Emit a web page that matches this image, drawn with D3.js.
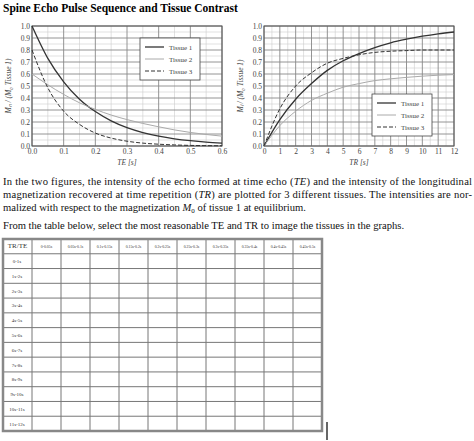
<!DOCTYPE html>
<html><head><meta charset="utf-8">
<script src="https://cdn.jsdelivr.net/npm/d3@7"></script>
<style>body{margin:0;background:#fff}svg{font-family:"Liberation Serif",serif}</style>
</head><body><svg id="c" width="474" height="441"></svg>
<script>
const teValues = [0,0.05,0.1,0.15,0.2,0.25,0.3,0.35,0.4,0.45,0.5,0.55,0.6];
const teTissue1 = [1.0,0.73,0.535,0.39,0.287,0.21,0.153,0.112,0.082,0.06,0.044,0.032,0.024];
const teTissue2 = [0.6,0.51,0.43,0.36,0.305,0.258,0.22,0.188,0.16,0.134,0.113,0.096,0.082];
const teTissue3 = [0.8,0.485,0.29,0.18,0.108,0.066,0.04,0.024,0.015,0.009,0.005,0.003,0.002];
const trValues = [0,1,2,3,4,5,6,7,8,9,10,11,12];
const trTissue1 = [0,0.22,0.39,0.52,0.63,0.71,0.77,0.82,0.86,0.89,0.915,0.935,0.95];
const trTissue2 = [0,0.17,0.29,0.38,0.44,0.49,0.52,0.545,0.56,0.572,0.582,0.59,0.595];
const trTissue3 = [0,0.31,0.5,0.61,0.69,0.73,0.76,0.78,0.79,0.795,0.8,0.8,0.8];
const yTicks = [0,0.1,0.2,0.3,0.4,0.5,0.6,0.7,0.8,0.9,1.0];
const teTicks = [0,0.1,0.2,0.3,0.4,0.5,0.6];
const teGrid = [0.05,0.15,0.25,0.35,0.45,0.55];
const trTicks = [0,1,2,3,4,5,6,7,8,9,10,11,12];
const trGrid = [0.5,1.5,2.5,3.5,4.5,5.5,6.5,7.5,8.5,9.5,10.5,11.5];
const yGrid = [0.05,0.15,0.25,0.35,0.45,0.55,0.65,0.75,0.85,0.95];
const seriesNames = ["Tissue 1","Tissue 2","Tissue 3"];
const teCols = ["0-0.05s","0.05s-0.1s","0.1s-0.15s","0.15s-0.2s","0.2s-0.25s","0.25s-0.3s","0.3s-0.35s","0.35s-0.4s","0.4s-0.45s","0.45s-0.5s"];
const trRows = ["0-1s","1s-2s","2s-3s","3s-4s","4s-5s","5s-6s","6s-7s","7s-8s","8s-9s","9s-10s","10s-11s","11s-12s"];

const svg = d3.select("#c");
const styles = [{c:"#333",w:1.3,d:null},{c:"#aaa",w:1,d:null},{c:"#333",w:1,d:"4,2"}];

svg.append("text").attr("x",3).attr("y",12).attr("font-size",11.5).attr("font-weight","bold").text("Spine Echo Pulse Sequence and Tissue Contrast");

function plot(x0,x1,xDom,xs,ys,ticks,grid,fmt,xlab,ylab,leg){
  const x = d3.scaleLinear().domain(xDom).range([x0,x1]);
  const y = d3.scaleLinear().domain([0,1]).range([146,26]);
  const g = svg.append("g");
  g.selectAll(".gm").data(grid).join("line").attr("x1",d=>x(d)).attr("x2",d=>x(d)).attr("y1",26).attr("y2",146).attr("stroke","#ccc").attr("stroke-width",0.6);
  g.selectAll(".hm").data(yGrid).join("line").attr("x1",x0).attr("x2",x1).attr("y1",d=>y(d)).attr("y2",d=>y(d)).attr("stroke","#ccc").attr("stroke-width",0.6);
  g.selectAll(".gM").data(ticks).join("line").attr("x1",d=>x(d)).attr("x2",d=>x(d)).attr("y1",26).attr("y2",146).attr("stroke","#888").attr("stroke-width",0.9);
  g.selectAll(".hM").data(yTicks).join("line").attr("x1",x0).attr("x2",x1).attr("y1",d=>y(d)).attr("y2",d=>y(d)).attr("stroke","#888").attr("stroke-width",0.9);
  g.append("rect").attr("x",x0).attr("y",26).attr("width",x1-x0).attr("height",120).attr("fill","none").attr("stroke","#555");
  g.append("g").attr("transform","translate(0,146)").call(d3.axisBottom(x).tickValues(ticks).tickFormat(fmt).tickSize(0).tickPadding(3))
    .call(a=>{a.select(".domain").remove();a.selectAll("text").attr("font-size",7.5).attr("font-family","Liberation Serif").attr("fill","#444");});
  g.append("g").attr("transform",`translate(${x0},0)`).call(d3.axisLeft(y).tickValues(yTicks).tickFormat(d3.format(".1f")).tickSize(0).tickPadding(2))
    .call(a=>{a.select(".domain").remove();a.selectAll("text").attr("font-size",7.5).attr("font-family","Liberation Serif").attr("fill","#444");});
  g.append("text").attr("x",(x0+x1)/2).attr("y",165).attr("text-anchor","middle").attr("font-size",7.5).attr("font-style","italic").attr("fill","#444").text(xlab);
  g.append("text").attr("transform",`translate(${x0-21},86) rotate(-90)`).attr("text-anchor","middle").attr("font-size",7.5).attr("font-style","italic").attr("fill","#444").text(ylab);
  const line = d3.line().curve(d3.curveMonotoneX).x((d,i)=>x(xs[i])).y(d=>y(d));
  ys.forEach((s,k)=>g.append("path").attr("d",line(s)).attr("fill","none").attr("stroke",styles[k].c).attr("stroke-width",styles[k].w).attr("stroke-dasharray",styles[k].d));
  const lg = g.append("g").attr("transform",`translate(${leg[0]},${leg[1]})`);
  lg.append("rect").attr("width",60).attr("height",42).attr("fill","#fff").attr("stroke","#444").attr("stroke-width",0.8);
  seriesNames.forEach((n,k)=>{
    lg.append("line").attr("x1",5).attr("x2",24).attr("y1",9+k*12).attr("y2",9+k*12).attr("stroke",styles[k].c).attr("stroke-width",styles[k].w).attr("stroke-dasharray",styles[k].d);
    lg.append("text").attr("x",29).attr("y",11.5+k*12).attr("font-size",7).attr("fill","#444").text(n);
  });
}
plot(32,222,[0,0.6],teValues,[teTissue1,teTissue2,teTissue3],teTicks,teGrid,d3.format(".1f"),"TE [s]","M\u2099 / (M\u2080 Tissue 1)",[140,38]);
plot(264,454,[0,12],trValues,[trTissue1,trTissue2,trTissue3],trTicks,trGrid,d3.format("d"),"TR [s]","M\u2097 / (M\u2080 Tissue 1)",[372,94]);

const lines = [
 [["In the two figures, the intensity of the echo formed at time echo ("],["TE",1],[") and the intensity of the longitudinal"]],
 [["magnetization recovered at time repetition ("],["TR",1],[") are plotted for 3 different tissues. The intensities are nor-"]],
 [["malized with respect to the magnetization "],["M",1],["0",0,1],[" of tissue 1 at equilibrium."]]
];
lines.forEach((l,i)=>{
  const t = svg.append("text").attr("x",3).attr("y",185+i*13).attr("font-size",10.6).attr("fill","#111").attr("textLength",i<2?469:null);
  l.forEach(p=>{const s=t.append("tspan").text(p[0]); if(p[1]) s.attr("font-style","italic"); if(p[2]) s.attr("font-size",7).attr("dy",2);
    else if(p[0]===" of tissue 1 at equilibrium.") s.attr("dy",-2);});
});
svg.append("text").attr("x",3).attr("y",229).attr("font-size",10.6).attr("fill","#111").text("From the table below, select the most reasonable TE and TR to image the tissues in the graphs.");

const cols = ["TR/TE"].concat(teCols);
const colX = c => c==="TR/TE"?3:32+teCols.indexOf(c)*29;
const ty = d3.scaleBand().domain(["hdr"].concat(trRows)).range([239,431]);
const tg = svg.append("g");
tg.append("rect").attr("x",3).attr("y",239).attr("width",319).attr("height",192).attr("fill","#fff");
tg.selectAll(".vl").data(teCols).join("line").attr("x1",c=>colX(c)).attr("x2",c=>colX(c)).attr("y1",239).attr("y2",431).attr("stroke","#777").attr("stroke-width",1);
tg.selectAll(".hl").data(trRows).join("line").attr("x1",3).attr("x2",322).attr("y1",r=>ty(r)).attr("y2",r=>ty(r)).attr("stroke","#777").attr("stroke-width",1);
tg.append("rect").attr("x",3).attr("y",239).attr("width",319).attr("height",192).attr("fill","none").attr("stroke","#888").attr("stroke-width",2.5);
tg.selectAll(".ch").data(cols).join("text").attr("x",c=>colX(c)+14.5).attr("y",ty("hdr")+ty.bandwidth()/2+2)
  .attr("text-anchor","middle").attr("font-size",c=>c==="TR/TE"?7:3.8).attr("fill","#333").text(c=>c);
tg.selectAll(".rh").data(trRows).join("text").attr("x",17).attr("y",r=>ty(r)+ty.bandwidth()/2+2)
  .attr("text-anchor","middle").attr("font-size",5).attr("fill","#333").text(r=>r);
svg.append("line").attr("x1",327).attr("x2",327).attr("y1",422).attr("y2",440).attr("stroke","#000").attr("stroke-width",1.2);
</script></body></html>
